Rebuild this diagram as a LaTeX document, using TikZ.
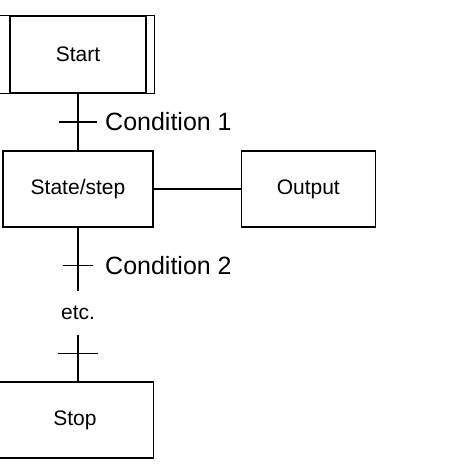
\documentclass[tikz,border=0pt]{standalone}
\usepackage{fontspec}
\setmainfont{Liberation Sans}
\usetikzlibrary{positioning}
\begin{document}
\begin{tikzpicture}[
			x=1pt, y=-1pt,
			stepbox/.style={draw, rectangle, line width=1.3pt, minimum height=76pt, inner sep=0pt, font=\fontsize{21}{25}\selectfont},
			cond/.style={inner sep=0pt, font=\fontsize{25}{30}\selectfont},
			link/.style={line width=1.3pt}
			]
			\useasboundingbox (0,0) rectangle (474,474);
			
			% Nodes
			\node (start) [stepbox, minimum width=136pt, minimum height=77pt] at (78,54.5) {Start};
			\node (state) [stepbox, minimum width=150pt] at (78,189) {State/step};
			\node (output) [stepbox, minimum width=134pt, right=87pt of state] {Output};
			\node (etc) [inner sep=0pt, minimum height=43pt, font=\fontsize{21}{25}\selectfont] at (78,313) {etc.};
			\node (stop) [stepbox, minimum width=157pt] at (75,420) {Stop};
			\draw [link] ([xshift=-20pt]start.north west) rectangle ([xshift=8pt]start.south east);
			
			% Connections
			\draw [link] (start.south) -- (state.north) coordinate[pos=0.5] (t1);
			\draw [link] (state.south) -- (etc.north) coordinate[pos=0.6] (t2);
			\draw [link] (etc.south) -- (etc.south |- stop.north) coordinate[pos=0.4] (t3);
			\draw [link] (state.east) -- (output.west);
			
			% Transitions
			\draw [link] ([xshift=-19pt]t1) -- ([xshift=19pt]t1);
			\draw [link] ([xshift=-15pt]t2) -- ([xshift=15pt]t2);
			\draw [link] ([xshift=-20pt]t3) -- ([xshift=20pt]t3);
			\node (cond1) [cond, right=27pt of t1] {Condition 1};
			\node (cond2) [cond, right=27pt of t2] {Condition 2};
			
		\end{tikzpicture}
\end{document}
